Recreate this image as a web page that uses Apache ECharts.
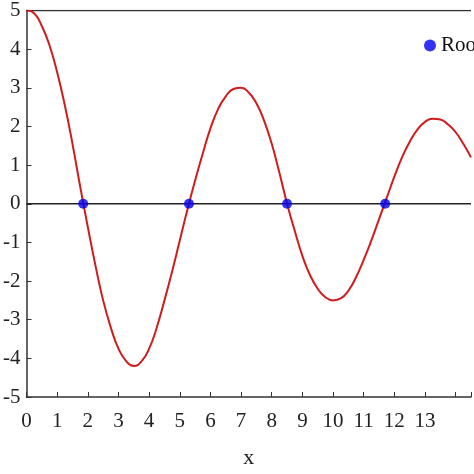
<!DOCTYPE html><html><head><meta charset="utf-8"><script src="https://cdn.jsdelivr.net/npm/echarts@6/dist/echarts.min.js"></script></head><body style="margin:0;overflow:hidden"><div id="c" style="width:474px;height:474px"></div><script>
var curveX=[0,0.25,0.5,0.75,1,1.25,1.5,1.75,2,2.25,2.5,2.75,3,3.25,3.5,3.75,4,4.25,4.5,4.75,5,5.25,5.5,5.75,6,6.25,6.5,6.75,7,7.25,7.5,7.75,8,8.25,8.5,8.75,9,9.25,9.5,9.75,10,10.25,10.5,10.75,11,11.25,11.5,11.75,12,12.25,12.5,12.75,13,13.25,13.5,13.75,14,14.25,14.5];
var curveY=[5,4.93,4.6,4.1,3.4,2.55,1.55,0.45,-0.6,-1.6,-2.5,-3.2,-3.75,-4.07,-4.2,-4.08,-3.75,-3.2,-2.5,-1.75,-0.95,-0.15,0.6,1.3,1.95,2.45,2.78,2.97,3.0,2.88,2.6,2.15,1.55,0.8,0.0,-0.7,-1.35,-1.85,-2.2,-2.42,-2.5,-2.45,-2.25,-1.9,-1.45,-0.95,-0.4,0.15,0.7,1.2,1.6,1.92,2.12,2.2,2.18,2.05,1.85,1.55,1.2];
var rootsX=[1.85,5.3,8.5,11.7];
var rootsY=[0,0,0,0];
var chart=echarts.init(document.getElementById('c'));
var font="'Liberation Serif', 'Times New Roman', serif";
chart.setOption({
 animation:false,
 grid:{left:21,width:493,top:8,height:397},
 legend:{left:419,top:30,data:[{name:'Roots',icon:'circle'}],itemWidth:12,itemHeight:12,itemGap:6,textStyle:{fontFamily:font,fontSize:21,color:'#111'}},
 xAxis:{type:'value',min:0,max:14.5,interval:1,name:'x',nameLocation:'middle',nameGap:50,nameTextStyle:{fontFamily:font,fontSize:22,color:'#222'},
  axisLine:{onZero:false,lineStyle:{color:'#333',width:1.5}},axisTick:{inside:true,length:5,lineStyle:{color:'#333'}},splitLine:{show:false},
  axisLabel:{fontFamily:font,fontSize:21,color:'#222',margin:14,formatter:function(v){return v>13?'':v;}}},
 yAxis:{type:'value',min:-5,max:5,interval:1,axisLine:{show:true,lineStyle:{color:'#333',width:1.5}},axisTick:{inside:true,length:5,lineStyle:{color:'#333'}},splitLine:{show:false},
  axisLabel:{fontFamily:font,fontSize:21,color:'#222',margin:6}},
 series:[
  {type:'line',data:[[0,5],[14.5,5]],symbol:'none',silent:true,lineStyle:{color:'#333',width:1.5}},
  {type:'line',data:[[0,0],[14.5,0]],symbol:'none',silent:true,lineStyle:{color:'#222',width:1.5}},
  {type:'line',data:curveX.map(function(x,i){return [x,curveY[i]];}),smooth:true,symbol:'none',lineStyle:{color:'#d01c1c',width:2}},
  {name:'Roots',type:'scatter',data:rootsX.map(function(x,i){return [x,rootsY[i]];}),symbolSize:10,itemStyle:{color:'#0000ee'},z:5}
 ]
});
</script></body></html>
